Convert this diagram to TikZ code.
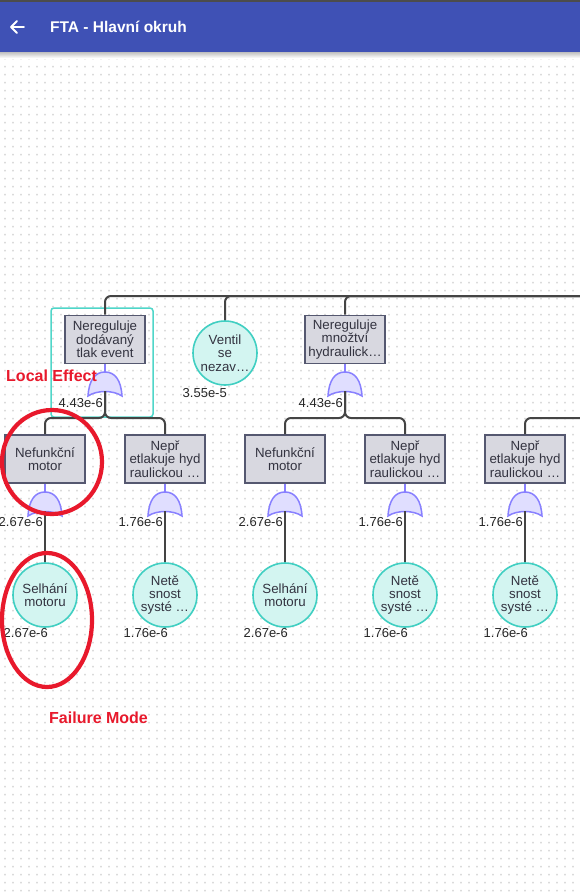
\documentclass[tikz,border=0pt]{standalone}
\usepackage{fontspec}
\setmainfont{Liberation Sans}
\usetikzlibrary{calc}
\definecolor{hdr}{HTML}{3F51B5}
\definecolor{dotc}{HTML}{C8C8C8}
\definecolor{boxfill}{HTML}{D8D8E0}
\definecolor{boxedge}{HTML}{555870}
\definecolor{circfill}{HTML}{D3F5F1}
\definecolor{circedge}{HTML}{40CFC2}
\definecolor{gatefill}{HTML}{E0DEFF}
\definecolor{gateedge}{HTML}{8880FF}
\definecolor{connc}{HTML}{444444}
\definecolor{selc}{HTML}{4FD6C9}
\definecolor{annot}{HTML}{E8192C}
\definecolor{txt}{HTML}{333340}
\tikzset{
  fbox/.style={rectangle, draw=boxedge, fill=boxfill, line width=1.6pt,
    minimum width=80pt, minimum height=48pt, inner sep=1pt, align=center,
    font=\fontsize{13.3}{13.3}\selectfont, text=txt},
  fcirc/.style={circle, draw=circedge, fill=circfill, line width=1.6pt,
    minimum size=64pt, inner sep=0pt, align=center,
    font=\fontsize{13.3}{13.3}\selectfont, text=txt},
  plbl/.style={font=\fontsize{13}{13}\selectfont, text=black!85, inner sep=0pt, anchor=east},
  conn/.style={draw=connc, line width=2pt, rounded corners=6pt},
  gline/.style={draw=gateedge, line width=1.5pt},
  annottext/.style={font=\bfseries\fontsize{16}{16}\selectfont, text=annot, inner sep=0pt, anchor=west},
  annotring/.style={draw=annot, line width=4.2pt},
  orgate/.pic={
    \path[fill=gatefill, draw=gateedge, line width=1.5pt]
      (0,0) .. controls (10,0) and (16,8) .. (17,24)
      .. controls (8,18) and (-8,18) .. (-17,24)
      .. controls (-16,8) and (-10,0) .. (0,0) -- cycle;
    \coordinate (-top) at (0,0);
    \coordinate (-out) at (0,19);
  }
}
\begin{document}
\begin{tikzpicture}[x=1pt,y=-1pt]
\useasboundingbox (0,0) rectangle (580,894);
\clip (0,0) rectangle (580,894);
\fill[white] (0,0) rectangle (580,894);
% dotted grid, one path per row
\foreach \j in {0,...,104}{
  \fill[dotc] \foreach \i in {0,...,72}{(5+8*\i-0.7,60+8*\j-0.7) rectangle ++(1.4,-1.4)};
}
% header
\shade[top color=black!25, bottom color=white] (0,52) rectangle (580,58);
\fill[hdr] (0,0) rectangle (580,52);
\fill[black!70] (0,0) rectangle (580,2);
\draw[white, line width=1.8pt, line cap=round, line join=round] (24,27) -- (11,27) (17,21) -- (11,27) -- (17,33);
\node[anchor=west, inner sep=0pt, text=white, font=\bfseries\fontsize{15.5}{15.5}\selectfont] (title) at (50,27) {FTA - Hlavní okruh};

% off-screen parents
\coordinate (root) at (640,296);
\coordinate (par2) at (640,418);
\coordinate (jrow) at (0,418);

% selection frame
\draw[selc, line width=1.5pt, rounded corners=3pt] (51,308) rectangle (153,417);

% level 1
\node[fbox] (A) at (105,339.5) {Nereguluje\\dodávaný\\tlak event};
\node[fcirc] (B) at (225,353) {Ventil\\se\\nezav…};
\node[fbox] (C) at (345,339.5) {Nereguluje\\množtví\\hydraulick…};
\pic (gA) at (105,372) {orgate};
\pic (gC) at (345,372) {orgate};
\draw[gline] (A.south) -- (gA-top);
\draw[gline] (C.south) -- (gC-top);
\node[plbl] (lA) at (103,403) {4.43e-6};
\node[plbl] (lB) at (227,393) {3.55e-5};
\node[plbl] (lC) at (343,403) {4.43e-6};

% level 2
\node[fbox] (D1) at (45,459) {Nefunkční\\motor};
\node[fbox] (D2) at (165,459) {Nepř\\etlakuje hyd\\raulickou …};
\node[fbox] (D3) at (285,459) {Nefunkční\\motor};
\node[fbox] (D4) at (405,459) {Nepř\\etlakuje hyd\\raulickou …};
\node[fbox] (D5) at (525,459) {Nepř\\etlakuje hyd\\raulickou …};

% top rail connectors
\draw[conn] (root) -| (A.north);
\draw[conn] (root) -| (B.north);
\draw[conn] (root) -| (C.north);
% gate to children
\draw[conn] (gA-out) |- (D1.north |- jrow) -- (D1.north);
\draw[conn] (gA-out) |- (D2.north |- jrow) -- (D2.north);
\draw[conn] (gC-out) |- (D3.north |- jrow) -- (D3.north);
\draw[conn] (gC-out) |- (D4.north |- jrow) -- (D4.north);
\draw[conn] (par2) -| (D5.north);

% level 2 gates, labels, level 3
\foreach \n/\x/\lbl/\ctext in {1/45/2.67e-6/{Selhání\\motoru}, 2/165/1.76e-6/{Netě\\snost\\systé …}, 3/285/2.67e-6/{Selhání\\motoru}, 4/405/1.76e-6/{Netě\\snost\\systé …}, 5/525/1.76e-6/{Netě\\snost\\systé …}}{
  \pic (g\n) at (\x,492) {orgate};
  \draw[gline] (D\n.south) -- (g\n-top);
  \node[fcirc] (E\n) at (\x,595) {\ctext};
  \draw[conn] (g\n-out) -- (E\n.north);
  \node[plbl] (lg\n) at (\x-2,522) {\lbl};
  \node[plbl] (le\n) at (\x+3,633) {\lbl};
}

% annotations
\node[annottext] (t1) at (6,376) {Local Effect};
\node[annottext] (t2) at (49,718) {Failure Mode};
\draw[annotring] (52,462) ellipse [x radius=50, y radius=52];
\draw[annotring] (47,620) ellipse [x radius=45, y radius=67];
\end{tikzpicture}
\end{document}
